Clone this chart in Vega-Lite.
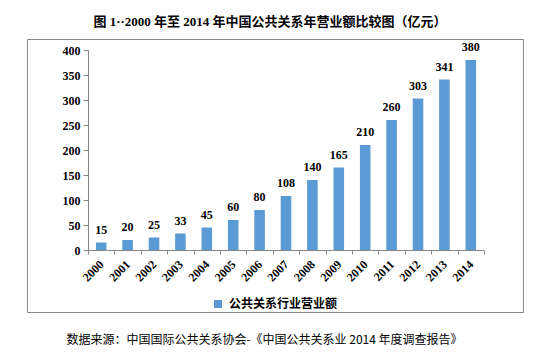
{
  "$schema": "https://vega.github.io/schema/vega-lite/v6.json",
  "width": 496,
  "height": 273,
  "autosize": {"type": "none"},
  "padding": {"left": 27, "top": 39, "right": 37, "bottom": 45},
  "background": "white",
  "title": {
    "text": "图 1··2000 年至 2014 年中国公共关系年营业额比较图（亿元）",
    "font": "Liberation Serif, Noto Sans CJK SC",
    "fontSize": 13,
    "fontWeight": "bold",
    "color": "#000000",
    "anchor": "middle",
    "baseline": "bottom",
    "offset": 11,
    "dx": -5,
    "dy": 14
  },
  "data": {
    "values": [
      {"year": "2000", "value": 15, "series": "公共关系行业营业额"},
      {"year": "2001", "value": 20, "series": "公共关系行业营业额"},
      {"year": "2002", "value": 25, "series": "公共关系行业营业额"},
      {"year": "2003", "value": 33, "series": "公共关系行业营业额"},
      {"year": "2004", "value": 45, "series": "公共关系行业营业额"},
      {"year": "2005", "value": 60, "series": "公共关系行业营业额"},
      {"year": "2006", "value": 80, "series": "公共关系行业营业额"},
      {"year": "2007", "value": 108, "series": "公共关系行业营业额"},
      {"year": "2008", "value": 140, "series": "公共关系行业营业额"},
      {"year": "2009", "value": 165, "series": "公共关系行业营业额"},
      {"year": "2010", "value": 210, "series": "公共关系行业营业额"},
      {"year": "2011", "value": 260, "series": "公共关系行业营业额"},
      {"year": "2012", "value": 303, "series": "公共关系行业营业额"},
      {"year": "2013", "value": 341, "series": "公共关系行业营业额"},
      {"year": "2014", "value": 380, "series": "公共关系行业营业额"}
    ]
  },
  "encoding": {
    "x": {
      "field": "year",
      "type": "ordinal",
      "sort": null,
      "scale": {"range": [61, 457], "paddingInner": 0, "paddingOuter": 0},
      "axis": {
        "orient": "bottom",
        "offset": -62,
        "tickBand": "extent",
        "labelAngle": -45,
        "labelAlign": "right",
        "labelBaseline": "middle",
        "labelPadding": 8,
        "tickSize": 4,
        "domainColor": "#868686",
        "tickColor": "#868686",
        "labelFont": "Liberation Serif",
        "labelFontWeight": "bold",
        "labelFontSize": 12,
        "labelColor": "#000000",
        "title": "数据来源：中国国际公共关系协会-《中国公共关系业 2014 年度调查报告》",
        "titleFont": "Noto Sans CJK SC",
        "titleFontWeight": "normal",
        "titleFontSize": 12,
        "titleColor": "#000000",
        "titleX": 237,
        "titleY": 89,
        "titleAlign": "center",
        "titleBaseline": "middle"
      }
    },
    "y": {
      "field": "value",
      "type": "quantitative",
      "scale": {"domain": [0, 400], "range": [211, 11], "nice": false, "zero": true},
      "axis": {
        "offset": -61,
        "values": [0, 50, 100, 150, 200, 250, 300, 350, 400],
        "grid": false,
        "title": null,
        "tickSize": 5,
        "labelPadding": 3,
        "domainColor": "#868686",
        "tickColor": "#868686",
        "labelFont": "Liberation Serif",
        "labelFontWeight": "bold",
        "labelFontSize": 12,
        "labelColor": "#000000"
      }
    }
  },
  "layer": [
    {
      "mark": {"type": "bar", "width": {"band": 0.4}},
      "encoding": {
        "color": {
          "field": "series",
          "type": "nominal",
          "scale": {"range": ["#5B9BD5"]},
          "legend": {
            "orient": "none",
            "legendX": 185,
            "legendY": 259,
            "title": null,
            "symbolType": "square",
            "symbolSize": 64,
            "symbolStrokeWidth": 0,
            "labelFont": "Noto Sans CJK SC",
            "labelFontWeight": "bold",
            "labelFontSize": 12,
            "labelColor": "#000000",
            "labelOffset": 5,
            "padding": 0
          }
        }
      }
    },
    {
      "mark": {
        "type": "text",
        "dy": -9,
        "baseline": "alphabetic",
        "font": "Liberation Serif",
        "fontWeight": "bold",
        "fontSize": 12,
        "color": "#000000"
      },
      "encoding": {"text": {"field": "value", "type": "quantitative"}}
    }
  ],
  "config": {
    "view": {"stroke": "#888888", "strokeWidth": 1},
    "axis": {"grid": false}
  }
}
